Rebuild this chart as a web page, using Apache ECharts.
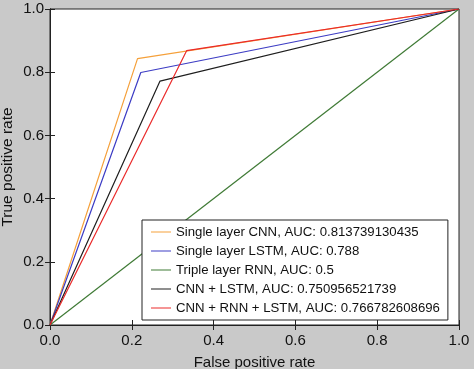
<!DOCTYPE html>
<html><head><meta charset="utf-8">
<script src="https://cdn.jsdelivr.net/npm/echarts@6/dist/echarts.min.js"></script>
<style>html,body{margin:0;padding:0;background:#c9c9c9;}#c{width:474px;height:369px;}</style>
</head><body><div id="c"></div>
<script>
const seriesNames = [
  'Single layer CNN, AUC: 0.813739130435',
  'Single layer LSTM, AUC: 0.788',
  'Triple layer RNN, AUC: 0.5',
  'CNN + LSTM, AUC: 0.750956521739',
  'CNN + RNN + LSTM, AUC: 0.766782608696'
];
const fprCNN = [0, 0.214, 1];
const tprCNN = [0, 0.843, 1];
const fprLSTM = [0, 0.222, 1];
const tprLSTM = [0, 0.799, 1];
const fprRNN = [0, 1];
const tprRNN = [0, 1];
const fprCNNLSTM = [0, 0.269, 1];
const tprCNNLSTM = [0, 0.772, 1];
const fprCNNRNNLSTM = [0, 0.334, 1];
const tprCNNRNNLSTM = [0, 0.868, 1];
const xTicks = ['0.0','0.2','0.4','0.6','0.8','1.0'];
const yTicks = ['0.0','0.2','0.4','0.6','0.8','1.0'];

const colors = ['#f5a03a', '#3c3cc4', '#3f7a35', '#1e1e1e', '#ea2a2a'];
const xs = [fprCNN, fprLSTM, fprRNN, fprCNNLSTM, fprCNNRNNLSTM];
const ys = [tprCNN, tprLSTM, tprRNN, tprCNNLSTM, tprCNNRNNLSTM];

const font = 'Liberation Sans, Arial, Helvetica, sans-serif';
const chart = echarts.init(document.getElementById('c'), null, {renderer: 'canvas'});
const axisCommon = {
  type: 'value', min: 0, max: 1, interval: 0.2,
  axisLine: {show: true, lineStyle: {color: '#222', width: 1}},
  axisTick: {show: true, inside: true, length: 5, lineStyle: {color: '#222'}},
  splitLine: {show: false}
};
chart.setOption({
  backgroundColor: '#c9c9c9',
  animation: false,
  grid: {left: 50, right: 15, top: 9, bottom: 44, containLabel: false, outerBoundsMode: 'none',
    show: true, backgroundColor: '#ffffff', borderColor: '#222', borderWidth: 1},
  xAxis: [
    Object.assign({}, axisCommon, {
      position: 'bottom',
      name: 'False positive rate', nameLocation: 'middle', nameGap: 30, nameMoveOverlap: false,
      nameTextStyle: {fontFamily: font, fontSize: 15, color: '#111'},
      axisLabel: {fontFamily: font, fontSize: 15, color: '#111', margin: 8,
        formatter: v => xTicks[Math.round(v / 0.2)]}
    }),
    Object.assign({}, axisCommon, {position: 'top', axisLabel: {show: false}})
  ],
  yAxis: [
    Object.assign({}, axisCommon, {
      position: 'left',
      name: 'True positive rate', nameLocation: 'middle', nameGap: 34, nameMoveOverlap: false,
      nameTextStyle: {fontFamily: font, fontSize: 15.5, color: '#111'},
      axisLabel: {fontFamily: font, fontSize: 15, color: '#111', margin: 6,
        formatter: v => yTicks[Math.round(v / 0.2)]}
    }),
    Object.assign({}, axisCommon, {position: 'right', axisLabel: {show: false}})
  ],
  legend: {
    orient: 'vertical', left: 142, top: 220,
    backgroundColor: '#ffffff', borderColor: '#222', borderWidth: 1,
    padding: [5, 8, 5, 9],
    itemWidth: 20, itemHeight: 14, itemGap: 5,
    textStyle: {fontFamily: font, fontSize: 13.2, color: '#111', lineHeight: 14},
    data: seriesNames.map(n => ({name: n, icon: 'path://M0,7 L20,7 L20,8 L0,8 Z'})),
    selectedMode: false
  },
  series: seriesNames.map((n, i) => ({
    name: n, type: 'line', symbol: 'none', color: colors[i],
    lineStyle: {width: 1.2, color: colors[i]},
    data: xs[i].map((x, j) => [x, ys[i][j]]),
    z: 2
  }))
});
</script></body></html>
